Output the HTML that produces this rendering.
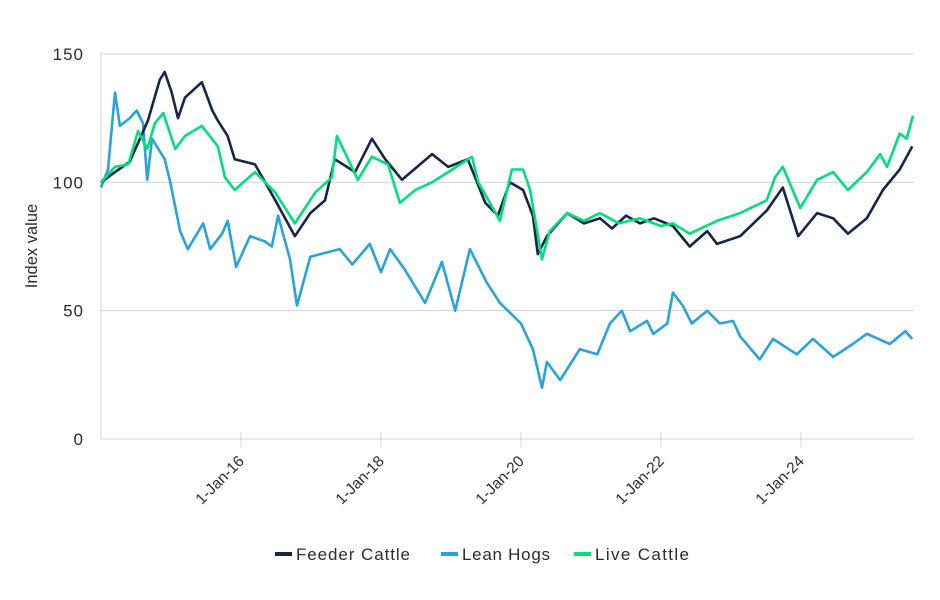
<!DOCTYPE html>
<html><head><meta charset="utf-8"><style>
body{margin:0;background:#fff;}
svg{display:block;font-family:"Liberation Sans",sans-serif;}
</style></head><body>
<svg id="chart" width="940" height="600" viewBox="0 0 940 600">
<g id="grid"></g>
<g id="yaxis"></g>
<g id="xaxis"></g>
<text x="37" y="246" transform="rotate(-90 37 246)" text-anchor="middle" font-size="16.5" fill="#2a2a3a">Index value</text>
<g id="series"></g>
<g id="legend"></g>
</svg>
<script>
const yTicks = [0, 50, 100, 150];
const xTickYears = [2016, 2018, 2020, 2022, 2024];
const xTickLabels = ["1-Jan-16", "1-Jan-18", "1-Jan-20", "1-Jan-22", "1-Jan-24"];
const seriesNames = ["Feeder Cattle", "Lean Hogs", "Live Cattle"];

const feederDates = [2014.00,2014.20,2014.41,2014.67,2014.84,2014.91,2015.01,2015.10,2015.20,2015.44,2015.59,2015.67,2015.81,2015.91,2016.20,2016.49,2016.77,2016.99,2017.20,2017.34,2017.63,2017.87,2018.06,2018.30,2018.73,2018.96,2019.24,2019.49,2019.67,2019.84,2020.03,2020.17,2020.24,2020.37,2020.66,2020.90,2021.13,2021.30,2021.50,2021.70,2021.90,2022.17,2022.41,2022.66,2022.80,2023.13,2023.51,2023.74,2023.96,2024.23,2024.46,2024.67,2024.94,2025.17,2025.41,2025.59];
const feederValues = [100,104,108,124,140,143,135,125,133,139,128,124,118,109,107,93,79,88,93,109,104,117,109,101,111,106,109,92,87,100,97,87,72,79,88,84,86,82,87,84,86,83,75,81,76,79,89,98,79,88,86,80,86,97,105,114];

const hogDates = [2014.00,2014.10,2014.20,2014.27,2014.41,2014.51,2014.60,2014.66,2014.73,2014.91,2014.99,2015.13,2015.24,2015.46,2015.56,2015.73,2015.81,2015.93,2016.13,2016.34,2016.44,2016.53,2016.70,2016.80,2016.99,2017.41,2017.59,2017.84,2018.00,2018.13,2018.34,2018.63,2018.87,2019.06,2019.27,2019.51,2019.70,2020.00,2020.17,2020.30,2020.37,2020.56,2020.84,2021.09,2021.27,2021.44,2021.56,2021.80,2021.89,2022.09,2022.17,2022.31,2022.44,2022.66,2022.84,2023.03,2023.13,2023.41,2023.60,2023.94,2024.17,2024.46,2024.74,2024.94,2025.27,2025.49,2025.59];
const hogValues = [98,105,135,122,125,128,123,101,117,109,100,81,74,84,74,80,85,67,79,77,75,87,70,52,71,74,68,76,65,74,66,53,69,50,74,61,53,45,35,20,30,23,35,33,45,50,42,46,41,45,57,52,45,50,45,46,40,31,39,33,39,32,37,41,37,42,39];

const liveDates = [2014.00,2014.20,2014.39,2014.53,2014.66,2014.77,2014.89,2015.06,2015.20,2015.44,2015.67,2015.77,2015.91,2016.20,2016.49,2016.77,2017.06,2017.30,2017.37,2017.53,2017.67,2017.87,2018.10,2018.27,2018.49,2018.73,2018.96,2019.30,2019.39,2019.70,2019.87,2020.03,2020.13,2020.30,2020.41,2020.66,2020.90,2021.13,2021.40,2021.70,2022.00,2022.17,2022.41,2022.80,2023.13,2023.51,2023.63,2023.74,2023.99,2024.23,2024.46,2024.67,2024.94,2025.13,2025.23,2025.41,2025.51,2025.60];
const liveValues = [100,106,107,120,113,123,127,113,118,122,114,102,97,104,96,84,96,102,118,109,101,110,107,92,97,100,104,110,100,85,105,105,97,70,81,88,85,88,84,86,83,84,80,85,88,93,102,106,90,101,104,97,104,111,106,119,117,126];

const X0 = 101, X1 = 914, Y0 = 439, Y150 = 54;
const xScale = t => X0 + (t - 2014) * 70;
const yScale = v => Y0 - v * (Y0 - Y150) / 150;
const NS = "http://www.w3.org/2000/svg";
function mk(tag, parent, attrs){ const e=document.createElementNS(NS,tag); for(const k in attrs) e.setAttribute(k,attrs[k]); parent.appendChild(e); return e; }

const grid = document.getElementById('grid');
const yaxis = document.getElementById('yaxis');
yTicks.forEach(v=>{
  const y = yScale(v);
  const l = mk('line', grid, {x1:X0, x2:X1, y1:y, y2:y, stroke:'#d4d4d4', 'stroke-width':1});
  
  
  const t = mk('text', yaxis, {x:84, y:y+6, 'text-anchor':'end', 'font-size':17, 'letter-spacing':1, fill:'#2a2a3a'});
  t.textContent = v;
  
  
});
const al = mk('line', yaxis, {x1:X0, x2:X0, y1:Y150-2, y2:Y0, stroke:'#d4d4d4', 'stroke-width':1});



const xaxis = document.getElementById('xaxis');
xTickYears.forEach((yr,i)=>{
  const x = xScale(yr);
  const tk = mk('line', xaxis, {x1:x, x2:x, y1:432, y2:447, stroke:'#d4d4d4', 'stroke-width':1});
  
  
  const t = mk('text', xaxis, {x:x+4, y:462, 'text-anchor':'end', 'font-size':15.5, fill:'#2a2a3a', transform:`rotate(-45 ${x+4} 462)`});
  t.textContent = xTickLabels[i];
  
  
});

const sg = document.getElementById('series');
function drawLine(dates, vals, color, name){
  const d = dates.map((t,i)=>(i?'L':'M')+xScale(t).toFixed(1)+' '+yScale(vals[i]).toFixed(1)).join(' ');
  const p = mk('path', sg, {d:d, fill:'none', stroke:color, 'stroke-width':2.6, 'stroke-linejoin':'round'});
  
  
}
drawLine(hogDates, hogValues, '#29a3dc', 'lean-hogs-line');
drawLine(feederDates, feederValues, '#14264a', 'feeder-cattle-line');
drawLine(liveDates, liveValues, '#00e07a', 'live-cattle-line');

const lg = document.getElementById('legend');
const legendColors = ['#14264a','#29a3dc','#00e07a'];
const legendX = [275, 441, 574];
const legendW = [114, 88, 94];
seriesNames.forEach((n,i)=>{
  const g = mk('g', lg, {});
  
  
  mk('rect', g, {x:legendX[i], y:552, width:17, height:4, fill:legendColors[i]});
  const t = mk('text', g, {x:legendX[i]+21, y:560, 'font-size':17, fill:'#2a2a3a', textLength:legendW[i], lengthAdjust:'spacing'});
  t.textContent = n;
});
</script>
</body></html>
